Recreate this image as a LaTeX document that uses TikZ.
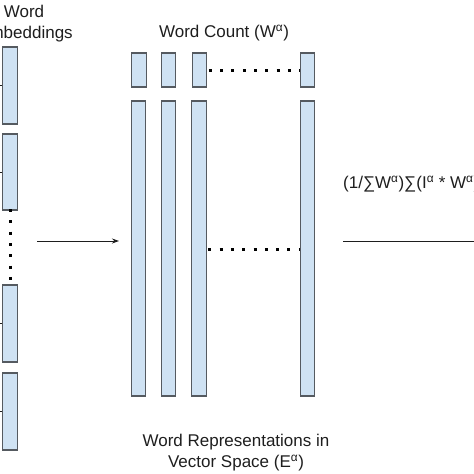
\documentclass[tikz,border=0pt]{standalone}
\usepackage{fontspec}
\setmainfont{Liberation Sans}
\usetikzlibrary{arrows.meta}
\definecolor{boxfill}{HTML}{CFE2F3}
\definecolor{boxline}{HTML}{555A60}
\definecolor{ink}{HTML}{1E1E1E}
\tikzset{
  vbox/.style={draw=boxline, fill=boxfill, line width=1.2pt, inner sep=0pt, minimum width=14.5pt},
  lbl/.style={text=ink, font=\fontsize{17}{21}\selectfont, align=center, inner sep=0pt},
  dotline/.style={draw=black, line width=3pt, dash pattern=on 3pt off 8.3pt},
  conn/.style={draw=ink, line width=0.9pt},
}
\newcommand{\supa}{\textsuperscript{α}}
\begin{document}
\begin{tikzpicture}[x=1pt,y=-1pt]
\useasboundingbox (0,0) rectangle (474,474);
% left embedding boxes
\node[vbox, minimum height=77pt] (e1) at (10,85.5) {};
\node[vbox, minimum height=76pt] (e2) at (10,172) {};
\node[vbox, minimum height=77pt] (e3) at (10,323.5) {};
\node[vbox, minimum height=77pt] (e4) at (10,411.5) {};
\coordinate (s1) at (-2,85.5);
\coordinate (s2) at (-2,172);
\coordinate (s3) at (-2,323.5);
\coordinate (s4) at (-2,411.5);
\foreach \i in {1,...,4} \draw[conn] (s\i) -- (e\i.west);
\draw[dotline] ([yshift=1.5pt]e2.south) -- ([yshift=-2pt]e3.north);
\node[lbl] (lemb) at (24,23.5) {Word\\\hspace*{3pt}Embeddings};
% word count boxes
\node[lbl] (lcount) at (224,33) {Word Count (W\supa)};
\node[vbox, minimum height=34pt] (c1) at (139,70) {};
\node[vbox, minimum height=34pt] (c2) at (168.5,70) {};
\node[vbox, minimum height=34pt] (c3) at (199.5,70) {};
\node[vbox, minimum height=34pt] (c4) at (307.5,70) {};
\draw[dotline] ([xshift=1.5pt]c3.east) -- (c4.west);
% tall representation boxes
\node[vbox, minimum height=295pt] (t1) at (138.5,248.5) {};
\node[vbox, minimum height=295pt] (t2) at (168.5,248.5) {};
\node[vbox, minimum height=295pt] (t3) at (199,248.5) {};
\node[vbox, minimum height=295pt] (t4) at (307.5,248.5) {};
\draw[dotline] ([xshift=1.5pt,yshift=-0.5pt]t3.east) -- ([yshift=-0.5pt]t4.west);
\node[lbl] (lrep) at (236,453) {Word Representations in\\Vector Space (E\supa)};
% arrow
\coordinate (a1) at (37,241);
\coordinate (a2) at (119,241);
\draw[conn, -{Stealth[length=7pt,width=5pt]}] (a1) -- (a2);
% formula and line
\node[lbl, anchor=west] (form) at (343,184) {(1/∑W\supa)∑(I\supa{} * W\supa)};
\coordinate (b1) at (343,241);
\coordinate (b2) at (480,241);
\draw[conn] (b1) -- (b2);
\end{tikzpicture}
\end{document}
